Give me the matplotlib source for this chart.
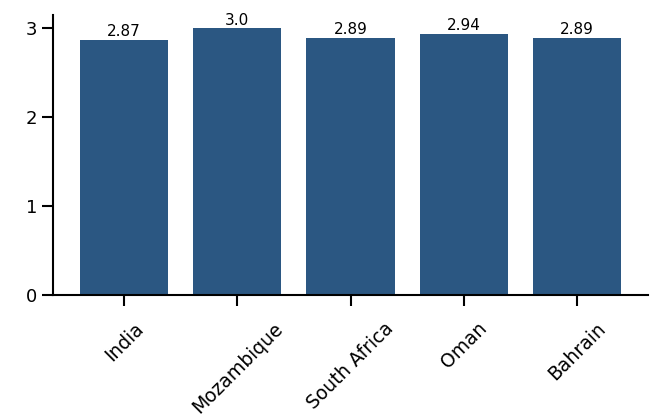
import matplotlib
matplotlib.use("Agg")
import matplotlib.pyplot as plt

countries = ["India", "Mozambique", "South Africa", "Oman", "Bahrain"]
values = [2.87, 3.0, 2.89, 2.94, 2.89]
labels = ["2.87", "3.0", "2.89", "2.94", "2.89"]

fig = plt.figure(figsize=(6.54, 4.19), dpi=100)
ax = fig.add_axes([0.081, 0.296, 0.910, 0.668])
bars = ax.bar(range(len(countries)), values, width=0.78, color="#2b5782")
for b, lab in zip(bars, labels):
    ax.text(b.get_x() + b.get_width() / 2, b.get_height() + 0.01, lab,
            ha="center", va="bottom", fontsize=11)
ax.set_ylim(0, 3.15)
ax.set_yticks([0, 1, 2, 3])
ax.set_xticks(range(len(countries)))
ax.set_xticklabels(countries, rotation=45, ha="center")
ax.tick_params(axis="both", labelsize=13, length=8, width=1.5, direction="out")
ax.tick_params(axis="x", pad=9, labelsize=13.5)
for s in ["top", "right"]:
    ax.spines[s].set_visible(False)
for s in ["left", "bottom"]:
    ax.spines[s].set_linewidth(1.5)
fig.savefig("out.png", dpi=100)
